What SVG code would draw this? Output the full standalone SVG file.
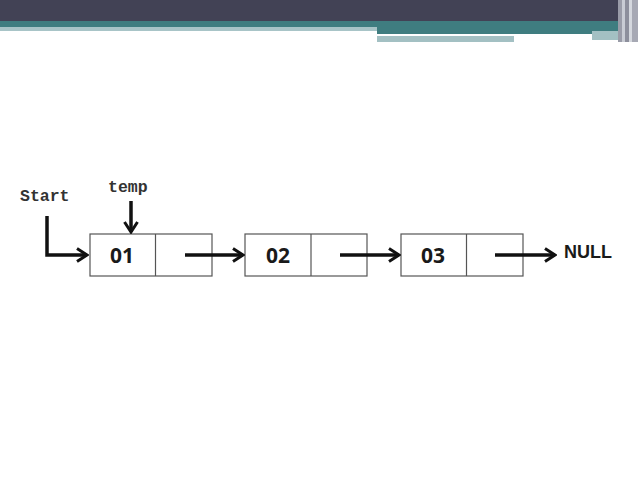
<svg xmlns="http://www.w3.org/2000/svg" width="638" height="478" viewBox="0 0 638 478">
<defs>
<style>
.box{fill:#fff;stroke:#555;stroke-width:1.2}
.div{stroke:#555;stroke-width:1.2}
.ln{fill:none;stroke:#111;stroke-width:3.5}
.val{font-family:"Open Sans","Liberation Sans",sans-serif;font-weight:700;font-size:21px;fill:#1a1a1a;text-anchor:middle}
.mono{font-family:"Liberation Mono",monospace;font-weight:bold;font-size:16.5px;fill:#333}
.null{font-family:"Liberation Sans",sans-serif;font-weight:bold;font-size:18px;fill:#1a1a1a}
</style>
<marker id="ah" viewBox="0 0 14 16" refX="12" refY="8" markerWidth="14" markerHeight="16" markerUnits="userSpaceOnUse" orient="auto">
<path d="M2,1.5 L12,8 L2,14.5" fill="none" stroke="#111" stroke-width="3"/>
</marker>
</defs>
<rect width="638" height="478" fill="#fff"/>
<g id="header">
<rect x="0" y="0" width="638" height="22" fill="#424255"/>
<rect x="0" y="21" width="638" height="6" fill="#3f7d80"/>
<rect x="0" y="27" width="377" height="4" fill="#a8c4c7"/>
<rect x="377" y="27" width="241" height="7" fill="#3f7d80"/>
<rect x="377" y="34" width="215" height="2" fill="#ffffff"/>
<rect x="377" y="36" width="137" height="6" fill="#a3c0c3"/>
<rect x="592" y="31" width="26" height="9" fill="#a3c0c3"/>
<rect x="618" y="0" width="4" height="42" fill="#9a9ca8"/>
<rect x="622" y="0" width="3" height="42" fill="#c9ccd4"/>
<rect x="625" y="0" width="4" height="42" fill="#8d8f9c"/>
<rect x="629" y="0" width="3" height="42" fill="#d5d8de"/>
<rect x="632" y="0" width="6" height="42" fill="#a7a9b4"/>
</g>
<g id="node1">
<rect class="box" x="90" y="234" width="122" height="42"/>
<line class="div" x1="155.5" y1="234" x2="155.5" y2="276"/>
<text class="val" x="122" y="263">01</text>
</g>
<g id="node2">
<rect class="box" x="245" y="234" width="122" height="42"/>
<line class="div" x1="311" y1="234" x2="311" y2="276"/>
<text class="val" x="278" y="263">02</text>
</g>
<g id="node3">
<rect class="box" x="401" y="234" width="122" height="42"/>
<line class="div" x1="466.5" y1="234" x2="466.5" y2="276"/>
<text class="val" x="433" y="263">03</text>
</g>
<g id="start">
<text class="mono" x="20" y="201">Start</text>
</g>
<g id="temp">
<text class="mono" x="108" y="192">temp</text>
</g>
<g id="null">
<text class="null" x="564" y="258">NULL</text>
</g>
<g id="connectors">
<path class="ln" d="M47,216 L47,255 L87,255" marker-end="url(#ah)"/>
<path class="ln" d="M131,201 L131,232" marker-end="url(#ah)"/>
<path class="ln" d="M185,255 L243,255" marker-end="url(#ah)"/>
<path class="ln" d="M340,255 L399,255" marker-end="url(#ah)"/>
<path class="ln" d="M495,255 L555,255" marker-end="url(#ah)"/>
</g>
</svg>
